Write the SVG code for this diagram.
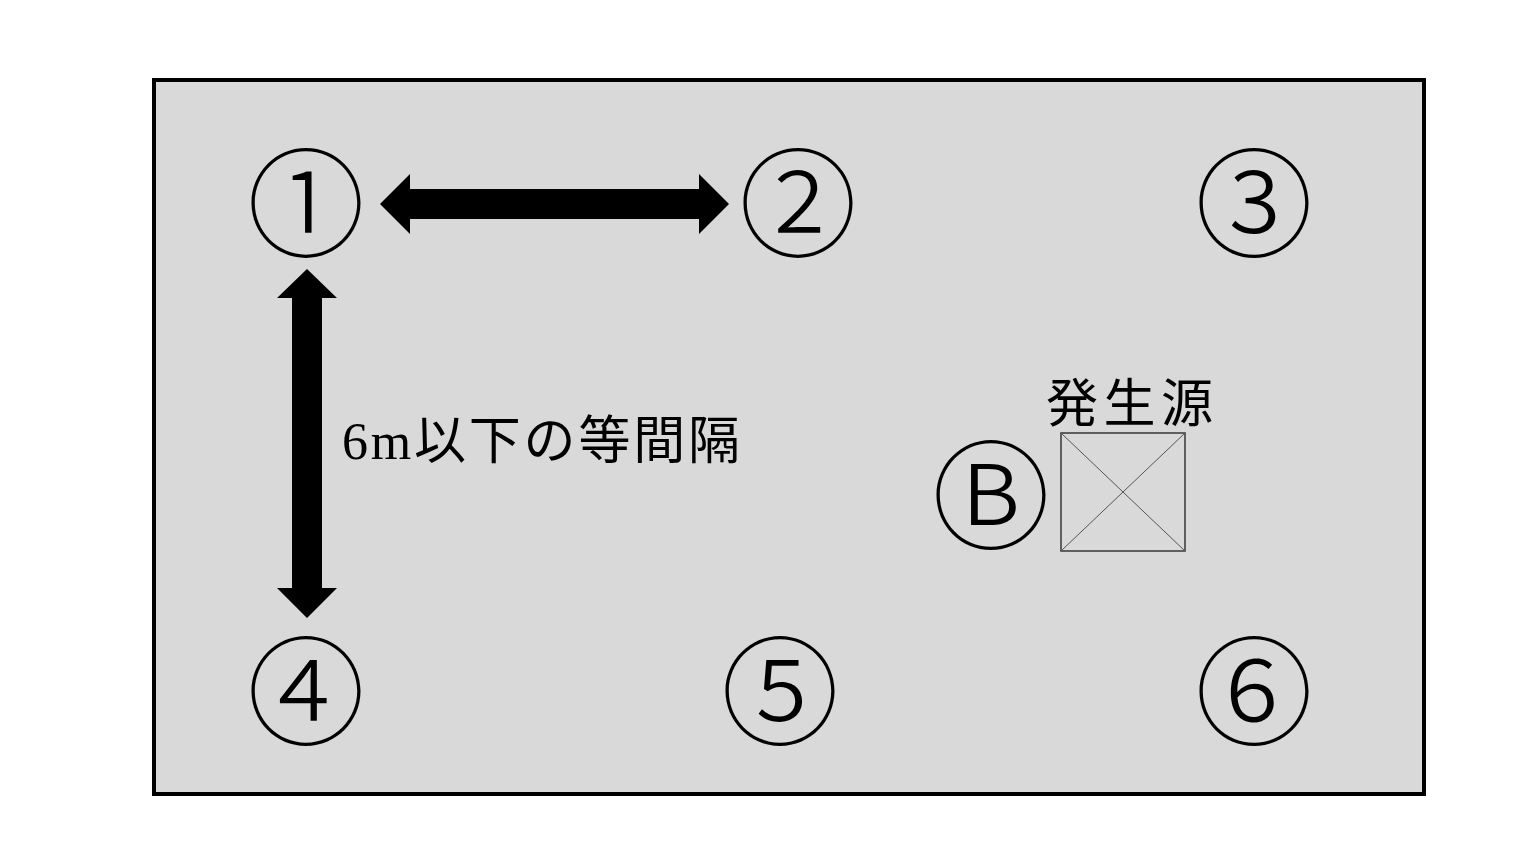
<svg xmlns="http://www.w3.org/2000/svg" width="1536" height="864" viewBox="0 0 1536 864">
<style>
.circ{font-family:"Noto Sans CJK JP","Noto Sans",sans-serif;font-size:118px;font-weight:300;fill:#000;text-anchor:middle}
.lbl{font-family:"Liberation Serif","Noto Sans CJK JP",serif;font-size:52px;fill:#000}
.arrow{fill:#000}
</style>
<rect x="0" y="0" width="1536" height="864" fill="#ffffff"/>
<g id="area">
<rect x="154" y="80" width="1270" height="714" fill="#d9d9d9" stroke="#000" stroke-width="4"/>
</g>
<g id="connectors">
<polygon class="arrow" points="380,204 410,174 410,189 699,189 699,174 729,204 699,234 699,219 410,219 410,234"/>
<polygon class="arrow" points="307,269 337,298 322,298 322,588 337,588 307,618 277,588 292,588 292,298 277,298"/>
</g>
<g id="p1"><text class="circ" x="306" y="248">①</text></g>
<g id="p2"><text class="circ" x="798" y="248">②</text></g>
<g id="p3"><text class="circ" x="1254" y="248">③</text></g>
<g id="p4"><text class="circ" x="306" y="736">④</text></g>
<g id="p5"><text class="circ" x="780" y="736">⑤</text></g>
<g id="p6"><text class="circ" x="1254" y="736">⑥</text></g>
<g id="pB"><text class="circ" x="991" y="540">Ⓑ</text></g>
<g id="source">
<rect x="1061" y="433" width="124" height="118" fill="none" stroke="#404040" stroke-width="1.6"/>
<line x1="1061" y1="433" x2="1185" y2="551" stroke="#555" stroke-width="1"/>
<line x1="1185" y1="433" x2="1061" y2="551" stroke="#555" stroke-width="1"/>
<text class="lbl" x="1046" y="422" textLength="167" lengthAdjust="spacing">発生源</text>
</g>
<g id="interval-label">
<text class="lbl" x="342" y="459" textLength="398" lengthAdjust="spacing">6m以下の等間隔</text>
</g>
</svg>
